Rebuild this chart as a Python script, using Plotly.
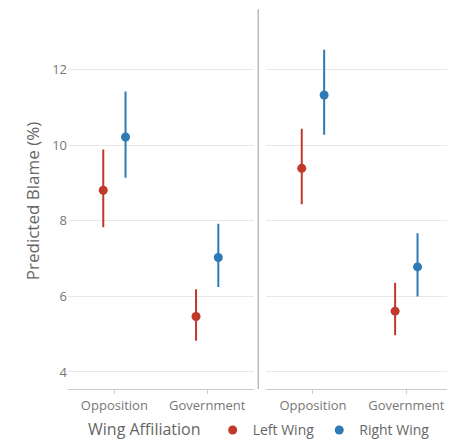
import plotly.graph_objects as go

categories = ["Opposition", "Government"]
series = ["Left Wing", "Right Wing"]
colors = {"Left Wing": "#c0392b", "Right Wing": "#2e7ab6"}
# panel 1
p1_est = {"Left Wing": [8.81, 5.47], "Right Wing": [10.22, 7.03]}
p1_lo = {"Left Wing": [7.83, 4.83], "Right Wing": [9.14, 6.25]}
p1_hi = {"Left Wing": [9.89, 6.19], "Right Wing": [11.42, 7.92]}
# panel 2
p2_est = {"Left Wing": [9.39, 5.61], "Right Wing": [11.33, 6.78]}
p2_lo = {"Left Wing": [8.44, 4.97], "Right Wing": [10.28, 6.00]}
p2_hi = {"Left Wing": [10.44, 6.36], "Right Wing": [12.53, 7.67]}

fig = go.Figure()
dodge = {"Left Wing": -0.12, "Right Wing": 0.12}
for pi, (est, lo, hi) in enumerate([(p1_est, p1_lo, p1_hi), (p2_est, p2_lo, p2_hi)]):
    xa = "x" if pi == 0 else "x2"
    for s in series:
        xs = [i + 1 + dodge[s] for i in range(len(categories))]
        fig.add_trace(go.Scatter(
            x=xs, y=est[s], mode="markers", xaxis=xa, yaxis="y" if pi == 0 else "y2",
            marker=dict(color=colors[s], size=9),
            error_y=dict(type="data", symmetric=False,
                         array=[h - e for h, e in zip(hi[s], est[s])],
                         arrayminus=[e - l for e, l in zip(est[s], lo[s])],
                         color=colors[s], thickness=2, width=0),
            name=s, showlegend=(pi == 0)))

ax = dict(tickmode="array", tickvals=[1, 2], ticktext=categories, range=[0.5, 2.5],
          showgrid=False, showline=True, linecolor="#cccccc", zeroline=False,
          ticks="outside", ticklen=4, tickcolor="#cccccc",
          tickfont=dict(size=13, color="#777777"))
ya = dict(range=[3.55, 13.5], tickvals=[4, 6, 8, 10, 12], gridcolor="#e8e8e8",
          zeroline=False, tickfont=dict(size=13, color="#777777"), automargin=False)
fig.update_layout(
    width=455, height=443, plot_bgcolor="white", paper_bgcolor="white",
    margin=dict(l=60, r=10, t=5, b=62),
    font=dict(family="Open Sans, sans-serif", color="#666666"),
    xaxis=dict(domain=[0, 0.482], **ax),
    xaxis2=dict(domain=[0.515, 1], **ax),
    yaxis=dict(title=dict(text="Predicted Blame (%)", standoff=8,
                          font=dict(size=17, color="#666666")), **ya),
    yaxis2=dict(anchor="x2", showticklabels=False, **ya),
    legend=dict(orientation="h", x=0.5, xanchor="center", y=-0.11, yanchor="middle",
                itemwidth=30,
                title=dict(text="Wing Affiliation ", font=dict(size=16)),
                font=dict(size=14, color="#666666")),
    shapes=[dict(type="line", xref="paper", yref="paper", x0=0.494, x1=0.494,
                 y0=0, y1=1.01, line=dict(color="#999999", width=1))],
)
fig.write_html("out.html")
